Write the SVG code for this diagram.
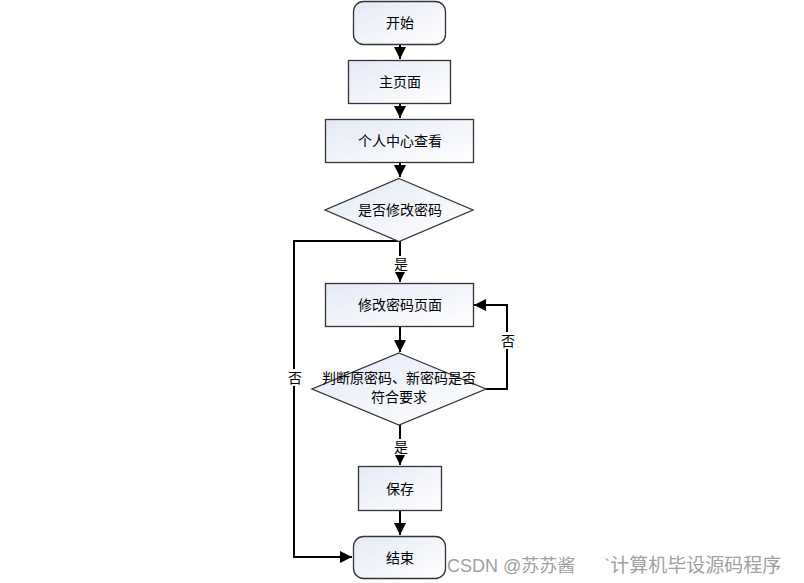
<svg xmlns="http://www.w3.org/2000/svg" width="804" height="583" viewBox="0 0 804 583">
<style>
.n{fill:url(#g);stroke:#333;stroke-width:1.3}
.t{font-family:"Liberation Sans","Noto Sans CJK SC",sans-serif;font-size:14px;fill:#000;text-anchor:middle}
.c{fill:none;stroke:#000;stroke-width:2}
.w{font-family:"Liberation Sans","Noto Sans CJK SC",sans-serif;font-size:18px;fill:#a0a0a0}
.bg{fill:#fff}
</style>
<defs>
<linearGradient id="g" x1="0" y1="0" x2="1" y2="1">
<stop offset="0" stop-color="#e3e9f5"/>
<stop offset="1" stop-color="#ffffff"/>
</linearGradient>
<marker id="a" markerWidth="6" markerHeight="6" refX="6" refY="3" orient="auto" markerUnits="strokeWidth">
<path d="M0,0 L6,3 L0,6 Z" fill="#000"/>
</marker>
</defs>
<rect width="804" height="583" fill="#fff"/>
<g id="connectors">
<path class="c" d="M400,45 V59" marker-end="url(#a)"/>
<path class="c" d="M400,104 V118" marker-end="url(#a)"/>
<path class="c" d="M400,163 V177" marker-end="url(#a)"/>
<path class="c" d="M400,241 V282" marker-end="url(#a)"/>
<path class="c" d="M400,326 V352" marker-end="url(#a)"/>
<path class="c" d="M400,425 V465" marker-end="url(#a)"/>
<path class="c" d="M400,510 V535" marker-end="url(#a)"/>
<path class="c" d="M400,241 H294 V557 H352" marker-end="url(#a)"/>
<path class="c" d="M486,389 H507 V305 H474" marker-end="url(#a)"/>
<rect class="bg" x="391" y="256" width="20" height="16"/>
<text class="t" x="401" y="269">是</text>
<rect class="bg" x="391" y="439" width="20" height="16"/>
<text class="t" x="401" y="452">是</text>
<rect class="bg" x="285" y="369" width="18" height="17"/>
<text class="t" x="295" y="383">否</text>
<rect class="bg" x="498" y="332" width="18" height="17"/>
<text class="t" x="508" y="346">否</text>
</g>
<g id="start">
<rect class="n" x="353.5" y="1.5" width="92" height="43" rx="10"/>
<text class="t" x="400" y="28">开始</text>
</g>
<g id="home">
<rect class="n" x="348.5" y="60.5" width="102" height="43"/>
<text class="t" x="400" y="87">主页面</text>
</g>
<g id="personal">
<rect class="n" x="325.5" y="119.5" width="148" height="43"/>
<text class="t" x="400" y="146">个人中心查看</text>
</g>
<g id="decide1">
<path class="n" d="M399,178.5 L473,210 L399,241.5 L325,210 Z"/>
<text class="t" x="400" y="215">是否修改密码</text>
</g>
<g id="changepw">
<rect class="n" x="325.5" y="283.5" width="148" height="43"/>
<text class="t" x="400" y="310">修改密码页面</text>
</g>
<g id="decide2">
<path class="n" d="M399,353 L486,389 L399,425 L312,389 Z"/>
<text class="t" x="399" y="383">判断原密码、新密码是否</text>
<text class="t" x="399" y="402">符合要求</text>
</g>
<g id="save">
<rect class="n" x="358.5" y="466.5" width="83" height="44"/>
<text class="t" x="400" y="494">保存</text>
</g>
<g id="end">
<rect class="n" x="353.5" y="536.5" width="92" height="42" rx="10"/>
<text class="t" x="400" y="563">结束</text>
</g>
<text class="w" y="572"><tspan x="447">CSDN @苏苏酱</tspan><tspan x="604" style="font-size:19px">ˋ计算机毕设源码程序</tspan></text>
</svg>
